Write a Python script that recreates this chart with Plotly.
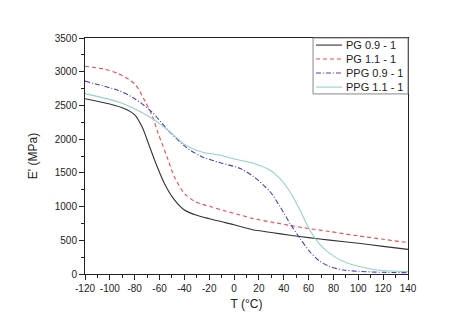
import plotly.graph_objects as go

# Storage modulus E' versus temperature for the four formulations
t_pg09 = [-120, -100, -88, -80, -74, -69, -64, -56, -48, -40, -30, -20, -10, 0, 15, 30, 45, 60, 77, 100, 120, 140]
e_pg09 = [2600, 2520, 2450, 2360, 2180, 1940, 1690, 1340, 1100, 950, 870, 820, 775, 730, 655, 615, 575, 540, 503, 455, 410, 365]

t_pg11 = [-120, -105, -93, -80, -72, -66, -61, -54, -48, -40, -31, -18, -7, 5, 15, 30, 45, 60, 77, 100, 120, 140]
e_pg11 = [3080, 3040, 2970, 2820, 2575, 2350, 2080, 1740, 1440, 1195, 1070, 995, 935, 875, 825, 770, 720, 675, 630, 565, 515, 465]

t_ppg09 = [-120, -93, -80, -66, -53, -39, -26, -11, 5, 16, 29, 37, 45, 53, 61, 69, 77, 88, 100, 120, 140]
e_ppg09 = [2860, 2720, 2600, 2400, 2130, 1885, 1740, 1650, 1565, 1440, 1220, 1000, 750, 530, 330, 190, 110, 60, 40, 25, 20]

t_ppg11 = [-120, -93, -80, -66, -53, -39, -26, -11, 0, 16, 29, 37, 45, 53, 61, 69, 77, 88, 100, 115, 140]
e_ppg11 = [2675, 2550, 2450, 2305, 2130, 1910, 1810, 1760, 1705, 1640, 1540, 1415, 1220, 950, 650, 440, 306, 185, 115, 60, 35]

x_ticks = [-120, -100, -80, -60, -40, -20, 0, 20, 40, 60, 80, 100, 120, 140]
x_tick_labels = ["-120", "-100", "-80", "-60", "-40", "-20", "0", "20", "40", "60", "80", "100", "120", "140"]

names = ["PG 0.9 - 1", "PG 1.1 - 1", "PPG 0.9 - 1", "PPG 1.1 - 1"]
colors = ["#333333", "#f04848", "#4040c4", "#94d2ca"]
dashes = ["solid", "4px,3px", "5px,2px,1px,2px", "solid"]

FONT = "Liberation Sans, Arial, sans-serif"

fig = go.Figure()
for t, e, name, c, d in zip([t_pg09, t_pg11, t_ppg09, t_ppg11],
                            [e_pg09, e_pg11, e_ppg09, e_ppg11],
                            names, colors, dashes):
    fig.add_trace(go.Scatter(x=t, y=e, name=name, mode="lines", showlegend=False,
                             line=dict(color=c, dash=d, width=1.1, shape="spline", smoothing=0.8)))

# compact boxed legend in the top-right corner of the plotting area
box_x0, box_x1, box_y0, box_y1 = 0.706, 1.0, 0.763, 1.0
row_y = [0.970, 0.911, 0.852, 0.792]
fig.add_shape(type="rect", xref="paper", yref="paper",
              x0=box_x0, x1=box_x1, y0=box_y0, y1=box_y1,
              line=dict(color="#888", width=1), fillcolor="white", layer="above")
for name, c, d, y in zip(names, colors, dashes, row_y):
    fig.add_shape(type="line", xref="paper", yref="paper",
                  x0=0.715, x1=0.796, y0=y, y1=y,
                  line=dict(color=c, dash=d, width=1.1), layer="above")
    fig.add_annotation(text=name, xref="paper", yref="paper", x=0.803, y=y,
                       xanchor="left", yanchor="middle", showarrow=False,
                       font=dict(family=FONT, size=11, color="#222"))

axis_common = dict(
    showgrid=False, zeroline=False, showline=True, linecolor="#222", linewidth=1,
    mirror=True, ticks="outside", ticklen=5, tickcolor="#222", tickwidth=1,
    tickangle=0,
    tickfont=dict(family=FONT, size=10, color="#222"),
)

fig.update_layout(
    width=474, height=330,
    margin=dict(l=85, r=66, t=38, b=56),
    paper_bgcolor="white", plot_bgcolor="white",
    font=dict(family=FONT, color="#222"),
    showlegend=False,
    xaxis=dict(range=[-120, 140], tickvals=x_ticks, ticktext=x_tick_labels,
               minor=dict(ticks="outside", ticklen=3, dtick=10, tickcolor="#222"),
               title=dict(text="T (°C)", font=dict(size=12), standoff=6),
               **axis_common),
    yaxis=dict(range=[0, 3500], dtick=500,
               minor=dict(ticks="outside", ticklen=3, dtick=250, tickcolor="#222"),
               title=dict(text="E' (MPa)", font=dict(size=12), standoff=14),
               **axis_common),
)

fig.write_html("out.html")
